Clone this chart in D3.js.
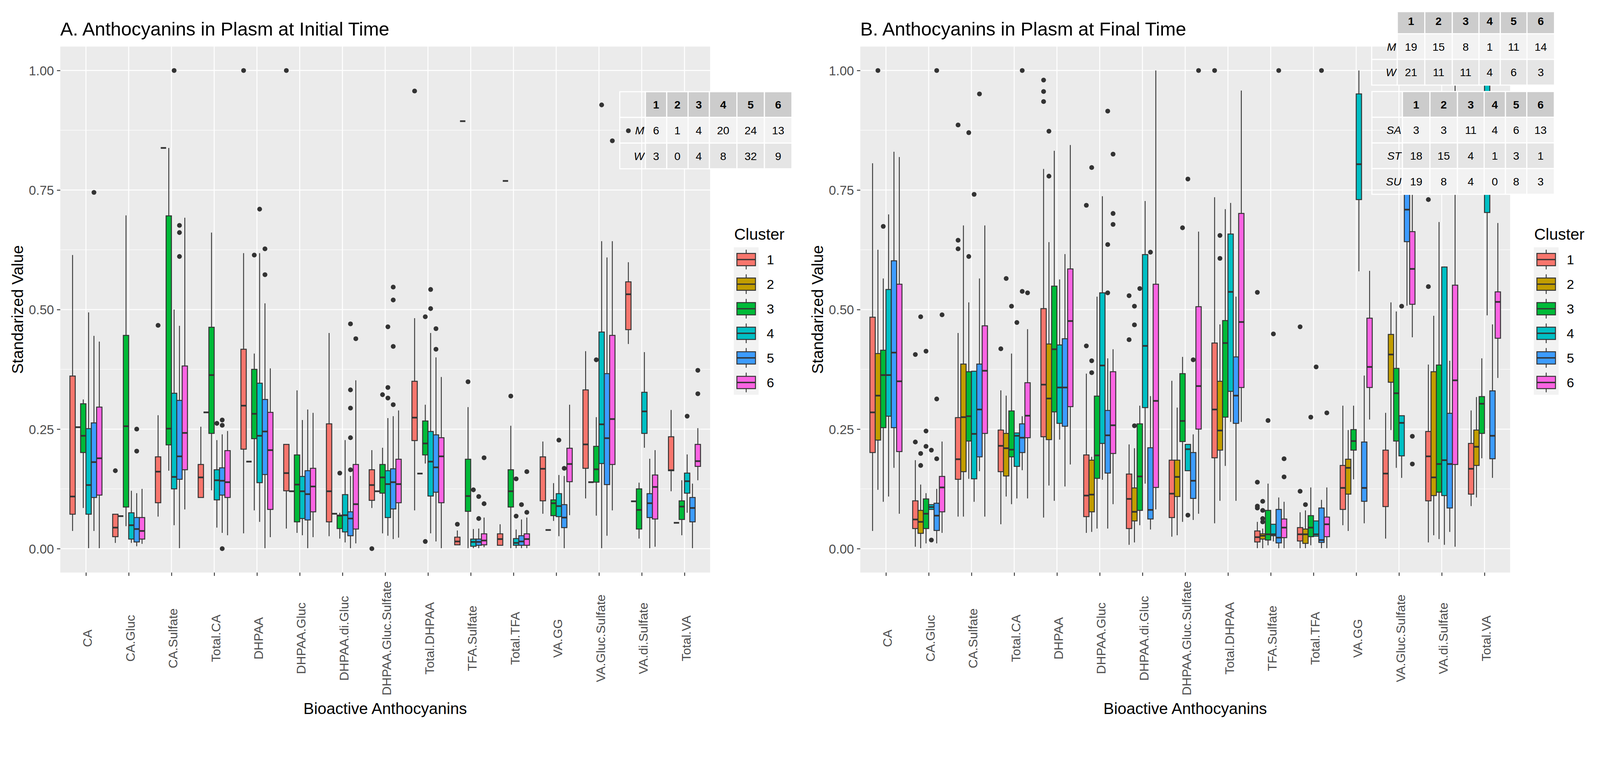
<!DOCTYPE html>
<html>
<head>
<meta charset="utf-8">
<script src="https://cdn.jsdelivr.net/npm/d3@7"></script>
<style>
  html, body { margin: 0; padding: 0; width: 100%; height: 100%; background: #fff; overflow: hidden; }
  #chart { width: 100vw; height: 100vh; }
  #chart svg { display: block; width: 100%; height: 100%; }
  text { font-family: "Liberation Sans", Arial, sans-serif; }
</style>
</head>
<body>
<div id="chart"></div>
<script>
// categories on the x axis
var categories = ["CA", "CA.Gluc", "CA.Sulfate", "Total.CA", "DHPAA", "DHPAA.Gluc", "DHPAA.di.Gluc",
    "DHPAA.Gluc.Sulfate", "Total.DHPAA", "TFA.Sulfate", "Total.TFA", "VA.GG", "VA.Gluc.Sulfate",
    "VA.di.Sulfate", "Total.VA"];
var clusters = ["1", "2", "3", "4", "5", "6"];
var clusterColors = ["#F8766D", "#C29D00", "#00BA38", "#00BFC4", "#3D9CFF", "#FB64E3"];
var yTicks = [0, 0.25, 0.5, 0.75, 1];

// box stats per category: [lower whisker, q1, median, q3, upper whisker]
// A. initial time
var initC1 = [[0.037, 0.072, 0.109, 0.361, 0.614], [0.012, 0.025, 0.044, 0.072, 0.072], [0.067, 0.096, 0.161, 0.192, 0.279],
    [0.107, 0.107, 0.149, 0.176, 0.255], [0.032, 0.208, 0.299, 0.417, 0.618], [0.042, 0.121, 0.158, 0.218, 0.218],
    [0.026, 0.056, 0.120, 0.261, 0.451], [0.085, 0.101, 0.133, 0.165, 0.206], [0.080, 0.226, 0.274, 0.350, 0.482],
    [0.008, 0.008, 0.015, 0.024, 0.038], [0.007, 0.007, 0.020, 0.031, 0.051], [0.073, 0.100, 0.167, 0.192, 0.224],
    [0.105, 0.168, 0.218, 0.332, 0.413], [0.428, 0.458, 0.532, 0.558, 0.599], [0.120, 0.163, 0.164, 0.234, 0.290]];
var initC2 = [[0.254, 0.254, 0.254, 0.254, 0.254], [0.068, 0.068, 0.068, 0.068, 0.068], [0.838, 0.838, 0.838, 0.838, 0.838],
    [0.285, 0.285, 0.285, 0.285, 0.285], [0.182, 0.182, 0.182, 0.182, 0.182], [0.120, 0.120, 0.120, 0.120, 0.120],
    [0.073, 0.073, 0.073, 0.073, 0.073], [0.120, 0.120, 0.120, 0.120, 0.120], [0.157, 0.157, 0.157, 0.157, 0.157],
    [0.894, 0.894, 0.894, 0.894, 0.894], [0.769, 0.769, 0.769, 0.769, 0.769], [0.039, 0.039, 0.039, 0.039, 0.039],
    [0.139, 0.139, 0.139, 0.139, 0.139], [0.099, 0.099, 0.099, 0.099, 0.099], [0.054, 0.054, 0.054, 0.054, 0.054]];
var initC3 = [[0.085, 0.201, 0.236, 0.303, 0.312], [0.047, 0.087, 0.256, 0.446, 0.697], [0.163, 0.217, 0.251, 0.696, 0.838],
    [0.122, 0.241, 0.363, 0.463, 0.661], [0.080, 0.230, 0.282, 0.375, 0.408], [0.033, 0.056, 0.134, 0.196, 0.331],
    [0.021, 0.042, 0.069, 0.070, 0.075], [0.032, 0.116, 0.149, 0.176, 0.211], [0.178, 0.196, 0.220, 0.267, 0.301],
    [0.001, 0.078, 0.110, 0.187, 0.296], [0.001, 0.087, 0.120, 0.165, 0.257], [0.058, 0.069, 0.095, 0.102, 0.137],
    [0.069, 0.139, 0.166, 0.214, 0.275], [0.021, 0.041, 0.081, 0.125, 0.138], [0.028, 0.061, 0.088, 0.100, 0.143]];
var initC4 = [[0.001, 0.072, 0.133, 0.251, 0.494], [0.012, 0.020, 0.049, 0.075, 0.121], [0.049, 0.125, 0.150, 0.325, 0.500],
    [0.044, 0.102, 0.143, 0.165, 0.227], [0.056, 0.138, 0.236, 0.346, 0.618], [0.028, 0.063, 0.120, 0.151, 0.269],
    [0.013, 0.035, 0.070, 0.113, 0.227], [0.027, 0.065, 0.135, 0.163, 0.273], [0.032, 0.110, 0.182, 0.245, 0.451],
    [0.001, 0.005, 0.014, 0.020, 0.041], [0.001, 0.007, 0.012, 0.021, 0.040], [0.026, 0.067, 0.089, 0.115, 0.154],
    [0.001, 0.178, 0.260, 0.453, 0.643], [0.211, 0.241, 0.287, 0.327, 0.411], [0.075, 0.116, 0.141, 0.158, 0.197]];
var initC5 = [[0.037, 0.107, 0.181, 0.263, 0.445], [0.005, 0.014, 0.041, 0.065, 0.116], [0.001, 0.145, 0.193, 0.310, 0.466],
    [0.033, 0.112, 0.142, 0.169, 0.239], [0.001, 0.155, 0.245, 0.312, 0.513], [0.001, 0.060, 0.114, 0.163, 0.291],
    [0.001, 0.027, 0.063, 0.077, 0.152], [0.020, 0.083, 0.139, 0.167, 0.277], [0.015, 0.118, 0.170, 0.238, 0.400],
    [0.001, 0.007, 0.014, 0.020, 0.042], [0.001, 0.007, 0.015, 0.027, 0.061], [0.001, 0.044, 0.065, 0.092, 0.152],
    [0.027, 0.134, 0.231, 0.366, 0.609], [0.001, 0.065, 0.095, 0.115, 0.188], [0.001, 0.056, 0.085, 0.107, 0.136]];
var initC6 = [[0.001, 0.112, 0.189, 0.296, 0.433], [0.010, 0.020, 0.037, 0.065, 0.125], [0.082, 0.165, 0.242, 0.382, 0.692],
    [0.028, 0.107, 0.139, 0.205, 0.246], [0.024, 0.082, 0.206, 0.285, 0.377], [0.024, 0.077, 0.130, 0.168, 0.284],
    [0.011, 0.041, 0.093, 0.176, 0.352], [0.023, 0.096, 0.135, 0.187, 0.289], [0.001, 0.096, 0.193, 0.232, 0.359],
    [0.003, 0.008, 0.017, 0.031, 0.065], [0.001, 0.007, 0.020, 0.031, 0.065], [0.070, 0.140, 0.177, 0.210, 0.301],
    [0.080, 0.176, 0.271, 0.446, 0.643], [0.004, 0.062, 0.129, 0.154, 0.206], [0.143, 0.172, 0.183, 0.218, 0.252]];
// outliers: [category index, cluster, value]
var initOutliers = [[0, 5, 0.745],
    [1, 1, 0.163], [1, 5, 0.250], [1, 5, 0.204],
    [2, 1, 0.467], [2, 4, 1.0], [2, 5, 0.676], [2, 5, 0.661], [2, 5, 0.611],
    [3, 4, 0.262], [3, 5, 0.269], [3, 5, 0.258], [3, 5, 0.0],
    [4, 1, 1.0], [4, 3, 0.614], [4, 4, 0.710], [4, 5, 0.627], [4, 5, 0.573],
    [5, 1, 1.0],
    [6, 3, 0.158], [6, 5, 0.470], [6, 5, 0.332], [6, 5, 0.294], [6, 5, 0.232], [6, 5, 0.165], [6, 6, 0.439],
    [7, 1, 0.0], [7, 3, 0.322], [7, 4, 0.464], [7, 4, 0.337], [7, 4, 0.315], [7, 5, 0.547], [7, 5, 0.520], [7, 5, 0.423], [7, 5, 0.301],
    [8, 1, 0.957], [8, 3, 0.485], [8, 3, 0.015], [8, 4, 0.542], [8, 4, 0.502], [8, 5, 0.460], [8, 5, 0.417],
    [9, 1, 0.051], [9, 3, 0.349], [9, 4, 0.123], [9, 5, 0.109], [9, 5, 0.063], [9, 6, 0.190], [9, 6, 0.094],
    [10, 3, 0.319], [10, 4, 0.146], [10, 4, 0.068], [10, 5, 0.092], [10, 6, 0.161], [10, 6, 0.076],
    [11, 4, 0.227], [11, 5, 0.168],
    [12, 3, 0.395], [12, 4, 0.928], [12, 6, 0.853],
    [13, 1, 0.874],
    [14, 4, 0.277], [14, 6, 0.373], [14, 6, 0.324]];

// B. final time
var finalC1 = [[0.037, 0.201, 0.285, 0.484, 0.806], [0.004, 0.042, 0.061, 0.100, 0.185], [0.067, 0.145, 0.187, 0.274, 0.451],
    [0.051, 0.161, 0.215, 0.248, 0.331], [0.065, 0.234, 0.343, 0.502, 0.794], [0.033, 0.067, 0.111, 0.196, 0.366],
    [0.008, 0.042, 0.104, 0.156, 0.218], [0.025, 0.065, 0.115, 0.185, 0.351], [0.053, 0.190, 0.291, 0.430, 0.735],
    [0.001, 0.014, 0.024, 0.037, 0.056], [0.001, 0.016, 0.030, 0.044, 0.076], [0.049, 0.082, 0.127, 0.174, 0.299],
    [0.021, 0.088, 0.157, 0.206, 0.284], [0.013, 0.100, 0.193, 0.245, 0.385], [0.089, 0.114, 0.167, 0.220, 0.289]];
var finalC2 = [[0.123, 0.227, 0.320, 0.408, 0.625], [0.001, 0.032, 0.056, 0.080, 0.134], [0.067, 0.161, 0.275, 0.386, 0.676],
    [0.109, 0.152, 0.210, 0.241, 0.320], [0.132, 0.228, 0.314, 0.428, 0.641], [0.035, 0.077, 0.113, 0.185, 0.192],
    [0.013, 0.058, 0.077, 0.127, 0.210], [0.028, 0.109, 0.150, 0.185, 0.295], [0.100, 0.206, 0.247, 0.350, 0.469],
    [0.001, 0.020, 0.027, 0.031, 0.042], [0.001, 0.011, 0.030, 0.041, 0.080], [0.037, 0.114, 0.169, 0.187, 0.248],
    [0.248, 0.348, 0.406, 0.448, 0.515], [0.028, 0.111, 0.149, 0.370, 0.487], [0.107, 0.174, 0.213, 0.248, 0.317]];
var finalC3 = [[0.098, 0.253, 0.363, 0.415, 0.565], [0.011, 0.042, 0.073, 0.104, 0.116], [0.146, 0.225, 0.277, 0.370, 0.515],
    [0.093, 0.192, 0.207, 0.288, 0.408], [0.100, 0.286, 0.417, 0.549, 0.832], [0.042, 0.147, 0.195, 0.319, 0.527],
    [0.049, 0.080, 0.151, 0.261, 0.299], [0.056, 0.224, 0.267, 0.366, 0.401], [0.173, 0.275, 0.430, 0.477, 0.710],
    [0.007, 0.018, 0.030, 0.080, 0.136], [0.007, 0.025, 0.044, 0.069, 0.128], [0.145, 0.206, 0.225, 0.249, 0.299],
    [0.169, 0.225, 0.325, 0.377, 0.496], [0.020, 0.118, 0.177, 0.384, 0.683], [0.189, 0.241, 0.303, 0.318, 0.398]];
var finalC4 = [[0.109, 0.277, 0.363, 0.542, 0.699], [0.082, 0.082, 0.087, 0.092, 0.092], [0.098, 0.146, 0.240, 0.371, 0.371],
    [0.105, 0.172, 0.236, 0.242, 0.242], [0.228, 0.262, 0.337, 0.426, 0.563], [0.144, 0.220, 0.383, 0.535, 0.737],
    [0.136, 0.295, 0.424, 0.615, 0.727], [0.163, 0.163, 0.208, 0.218, 0.218], [0.265, 0.329, 0.537, 0.658, 0.723],
    [0.015, 0.027, 0.030, 0.051, 0.051], [0.026, 0.026, 0.030, 0.058, 0.058], [0.580, 0.730, 0.804, 0.951, 1.0],
    [0.148, 0.194, 0.263, 0.278, 0.278], [0.008, 0.111, 0.185, 0.589, 0.590], [0.488, 0.703, 0.850, 0.975, 1.0]];
var finalC5 = [[0.169, 0.253, 0.410, 0.602, 0.830], [0.011, 0.038, 0.069, 0.095, 0.125], [0.162, 0.192, 0.291, 0.386, 0.565],
    [0.164, 0.201, 0.232, 0.261, 0.277], [0.130, 0.256, 0.337, 0.439, 0.616], [0.042, 0.158, 0.237, 0.289, 0.398],
    [0.040, 0.062, 0.081, 0.211, 0.319], [0.060, 0.105, 0.142, 0.201, 0.239], [0.100, 0.262, 0.320, 0.401, 0.527],
    [0.001, 0.012, 0.023, 0.082, 0.107], [0.001, 0.013, 0.018, 0.085, 0.102], [0.053, 0.099, 0.127, 0.223, 0.362],
    [0.508, 0.642, 0.709, 0.790, 0.920], [0.035, 0.085, 0.177, 0.283, 0.393], [0.148, 0.188, 0.236, 0.330, 0.469]];
var finalC6 = [[0.073, 0.203, 0.350, 0.553, 0.819], [0.033, 0.077, 0.128, 0.151, 0.224], [0.067, 0.241, 0.372, 0.466, 0.676],
    [0.105, 0.232, 0.278, 0.347, 0.459], [0.176, 0.297, 0.476, 0.585, 0.844], [0.093, 0.199, 0.258, 0.370, 0.417],
    [0.082, 0.128, 0.309, 0.553, 1.0], [0.073, 0.250, 0.340, 0.506, 0.663], [0.265, 0.337, 0.474, 0.701, 0.958],
    [0.001, 0.023, 0.044, 0.062, 0.098], [0.001, 0.025, 0.051, 0.066, 0.128], [0.270, 0.337, 0.380, 0.482, 0.581],
    [0.442, 0.511, 0.585, 0.663, 0.800], [0.004, 0.176, 0.352, 0.551, 1.0], [0.357, 0.440, 0.516, 0.537, 0.681]];
var finalOutliers = [[0, 2, 1.0], [0, 3, 0.674],
    [1, 1, 0.406], [1, 1, 0.223], [1, 2, 0.485], [1, 2, 0.199], [1, 2, 0.174], [1, 3, 0.413], [1, 3, 0.246], [1, 3, 0.214],
    [1, 4, 0.206], [1, 4, 0.018], [1, 5, 1.0], [1, 5, 0.313], [1, 5, 0.188], [1, 6, 0.489],
    [2, 1, 0.886], [2, 1, 0.645], [2, 1, 0.627], [2, 3, 0.870], [2, 3, 0.611], [2, 4, 0.741], [2, 5, 0.951],
    [3, 1, 0.418], [3, 2, 0.565], [3, 3, 0.507], [3, 4, 0.473], [3, 5, 1.0], [3, 5, 0.538], [3, 6, 0.535],
    [4, 1, 0.980], [4, 1, 0.956], [4, 1, 0.935], [4, 2, 0.873], [4, 2, 0.779],
    [5, 1, 0.718], [5, 1, 0.424], [5, 2, 0.797], [5, 2, 0.393], [5, 2, 0.368], [5, 5, 0.915], [5, 5, 0.636], [5, 5, 0.535],
    [5, 6, 0.825], [5, 6, 0.701], [5, 6, 0.678],
    [6, 1, 0.529], [6, 1, 0.437], [6, 2, 0.507], [6, 2, 0.468], [6, 2, 0.257], [6, 3, 0.544], [6, 5, 0.620],
    [7, 3, 0.671], [7, 4, 0.773], [7, 4, 0.070], [7, 5, 0.395], [7, 6, 1.0],
    [8, 1, 1.0], [8, 2, 0.655], [8, 2, 0.607],
    [9, 1, 0.536], [9, 1, 0.139], [9, 1, 0.089], [9, 1, 0.085], [9, 2, 0.099], [9, 2, 0.080], [9, 2, 0.063], [9, 2, 0.056],
    [9, 3, 0.268], [9, 4, 0.449], [9, 5, 1.0], [9, 6, 0.188], [9, 6, 0.150],
    [10, 1, 0.464], [10, 1, 0.120], [10, 2, 0.092], [10, 3, 0.275], [10, 4, 0.380], [10, 5, 1.0], [10, 6, 0.284],
    [12, 4, 0.507], [12, 6, 0.235], [12, 6, 0.177],
    [13, 1, 0.730], [13, 1, 0.548]];

// count tables
var initTableRows = ["M", "W"];
var initTableValues = [[6, 1, 4, 20, 24, 13], [3, 0, 4, 8, 32, 9]];
var finalTable1Rows = ["M", "W"];
var finalTable1Values = [[19, 15, 8, 1, 11, 14], [21, 11, 11, 4, 6, 3]];
var finalTable2Rows = ["SA", "ST", "SU"];
var finalTable2Values = [[3, 3, 11, 4, 6, 13], [18, 15, 4, 1, 3, 1], [19, 8, 4, 0, 8, 3]];

var W = 4326, H = 1975;
var svg = d3.select("#chart").append("svg")
    .attr("viewBox", "0 0 " + W + " " + H)
    .attr("preserveAspectRatio", "xMinYMin meet");
svg.append("rect").attr("width", W).attr("height", H).attr("fill", "white");
var defs = svg.append("defs");

var color = d3.scaleOrdinal().domain(clusters).range(clusterColors);

function drawTable(g, cx, cy, rowNames, values, clipTop) {
    var fs = 30, pad = 41, rowH = 69.5;
    var meas = g.append("text").style("font-size", fs + "px");
    function tw(s, bold, italic) {
        meas.text(s).style("font-weight", bold ? "bold" : "normal").style("font-style", italic ? "italic" : "normal");
        return meas.node().getComputedTextLength();
    }
    var colW = clusters.map(function(c, j) {
        var m = tw(c, true);
        values.forEach(function(r) { m = Math.max(m, tw(String(r[j]))); });
        return m + pad;
    });
    var headW = d3.max(rowNames, function(r) { return tw(r, false, true); }) + pad;
    meas.remove();

    if (clipTop !== undefined) {
        var id = "clip" + Math.round(cx) + "_" + Math.round(cy);
        defs.append("clipPath").attr("id", id).append("rect")
            .attr("x", 0).attr("y", clipTop).attr("width", W).attr("height", H - clipTop);
        g.attr("clip-path", "url(#" + id + ")");
    }

    var totalW = headW + d3.sum(colW), totalH = rowH * (values.length + 1);
    var x0 = cx - totalW / 2, y0 = cy - totalH / 2;
    var colX = [];
    var acc = x0 + headW;
    colW.forEach(function(w) { colX.push(acc); acc += w; });

    // corner + row heads (transparent)
    for (var r = 0; r <= values.length; r++) {
        g.append("rect").attr("x", x0).attr("y", y0 + r * rowH).attr("width", headW).attr("height", rowH)
            .attr("fill", "none").attr("stroke", "white").attr("stroke-width", 3);
    }
    // header
    clusters.forEach(function(c, j) {
        g.append("rect").attr("x", colX[j]).attr("y", y0).attr("width", colW[j]).attr("height", rowH)
            .attr("fill", "#cccccc").attr("stroke", "white").attr("stroke-width", 3);
        g.append("text").attr("x", colX[j] + colW[j] / 2).attr("y", y0 + rowH / 2).attr("dy", "0.36em")
            .attr("text-anchor", "middle").style("font-size", fs + "px").style("font-weight", "bold").text(c);
    });
    values.forEach(function(row, i) {
        var yy = y0 + (i + 1) * rowH;
        g.append("text").attr("x", x0 + headW - 3).attr("y", yy + rowH / 2).attr("dy", "0.36em")
            .attr("text-anchor", "end").style("font-size", fs + "px").style("font-style", "italic").text(rowNames[i]);
        row.forEach(function(v, j) {
            g.append("rect").attr("x", colX[j]).attr("y", yy).attr("width", colW[j]).attr("height", rowH)
                .attr("fill", i % 2 === 0 ? "#f2f2f2" : "#e5e5e5").attr("stroke", "white").attr("stroke-width", 3);
            g.append("text").attr("x", colX[j] + colW[j] / 2).attr("y", yy + rowH / 2).attr("dy", "0.36em")
                .attr("text-anchor", "middle").style("font-size", fs + "px").text(v);
        });
    });
}

function drawPanel(offsetX, title, series, outliers, tables) {
    var left = offsetX + 163, right = offsetX + 1920, top = 126, bottom = 1549;
    var x = d3.scaleLinear().domain([-0.6, categories.length - 0.4]).range([left, right]);
    var y = d3.scaleLinear().domain([-0.05, 1.05]).range([bottom, top]);
    var step = x(1) - x(0);
    var dodge = d3.scaleBand().domain(clusters).range([-0.375 * step, 0.375 * step]);
    var bw = dodge.bandwidth();

    var g = svg.append("g");
    g.append("rect").attr("x", left).attr("y", top).attr("width", right - left).attr("height", bottom - top)
        .attr("fill", "#ebebeb");

    // grid
    var minor = [0.125, 0.375, 0.625, 0.875];
    g.selectAll(".minor").data(minor).enter().append("line")
        .attr("x1", left).attr("x2", right).attr("y1", y).attr("y2", y)
        .attr("stroke", "white").attr("stroke-width", 1.3);
    g.selectAll(".major").data(yTicks).enter().append("line")
        .attr("x1", left).attr("x2", right).attr("y1", y).attr("y2", y)
        .attr("stroke", "white").attr("stroke-width", 2.6);
    g.selectAll(".vgrid").data(d3.range(categories.length)).enter().append("line")
        .attr("x1", x).attr("x2", x).attr("y1", top).attr("y2", bottom)
        .attr("stroke", "white").attr("stroke-width", 2.6);

    // boxes
    var boxData = [];
    series.forEach(function(s, ci) {
        s.forEach(function(st, k) { boxData.push({ cat: k, cl: clusters[ci], s: st }); });
    });
    var boxes = g.append("g").selectAll("g").data(boxData).enter().append("g")
        .attr("transform", function(d) { return "translate(" + (x(d.cat) + dodge(d.cl) + bw / 2) + ",0)"; });
    boxes.append("line").attr("y1", function(d) { return y(d.s[4]); }).attr("y2", function(d) { return y(d.s[3]); })
        .attr("stroke", "#333333").attr("stroke-width", 2.4);
    boxes.append("line").attr("y1", function(d) { return y(d.s[1]); }).attr("y2", function(d) { return y(d.s[0]); })
        .attr("stroke", "#333333").attr("stroke-width", 2.4);
    boxes.append("rect").attr("x", -bw / 2).attr("width", bw)
        .attr("y", function(d) { return y(d.s[3]); })
        .attr("height", function(d) { return y(d.s[1]) - y(d.s[3]); })
        .attr("fill", function(d) { return color(d.cl); })
        .attr("stroke", "#333333").attr("stroke-width", 2.6);
    boxes.append("line").attr("x1", -bw / 2).attr("x2", bw / 2)
        .attr("y1", function(d) { return y(d.s[2]); }).attr("y2", function(d) { return y(d.s[2]); })
        .attr("stroke", "#333333").attr("stroke-width", 4.6);

    g.append("g").selectAll("circle").data(outliers).enter().append("circle")
        .attr("cx", function(d) { return x(d[0]) + dodge(String(d[1])) + bw / 2; })
        .attr("cy", function(d) { return y(d[2]); })
        .attr("r", 6.5).attr("fill", "#333333");

    // axes
    var yAxis = g.append("g").attr("transform", "translate(" + left + ",0)")
        .call(d3.axisLeft(y).tickValues(yTicks).tickFormat(d3.format(".2f")).tickSize(9).tickPadding(8));
    yAxis.select(".domain").remove();
    yAxis.selectAll("line").attr("stroke", "#333333").attr("stroke-width", 2.4);
    yAxis.selectAll("text").attr("font-family", null).style("font-size", "35px").attr("fill", "#4d4d4d")
        .attr("dy", "0.36em");

    var xAxis = g.append("g").attr("transform", "translate(0," + bottom + ")")
        .call(d3.axisBottom(x).tickValues(d3.range(categories.length))
            .tickFormat(function(i) { return categories[i]; }).tickSize(9));
    xAxis.select(".domain").remove();
    xAxis.selectAll("line").attr("stroke", "#333333").attr("stroke-width", 2.4);
    xAxis.selectAll("text").attr("font-family", null).style("font-size", "34px").attr("fill", "#4d4d4d")
        .attr("x", null).attr("y", null).attr("dy", null)
        .attr("text-anchor", "middle").attr("dominant-baseline", "central")
        .attr("transform", "translate(4," + (1727 - bottom) + ") rotate(-90)");

    // titles
    svg.append("text").attr("x", left).attr("y", 96).style("font-size", "51px").attr("fill", "black").text(title);
    svg.append("text").attr("x", (left + right) / 2).attr("y", 1932).attr("text-anchor", "middle")
        .style("font-size", "43px").text("Bioactive Anthocyanins");
    svg.append("text").attr("transform", "translate(" + (offsetX + 62) + "," + ((top + bottom) / 2) + ") rotate(-90)")
        .attr("text-anchor", "middle").style("font-size", "43px").text("Standarized Value");

    // legend
    var lg = svg.append("g").attr("transform", "translate(" + (offsetX + 1984) + ",0)");
    lg.append("text").attr("x", 1).attr("y", 648).style("font-size", "43px").text("Cluster");
    var keyH = 66.5, keyW = 67, keyTop = 669;
    lg.append("rect").attr("x", 0).attr("y", keyTop).attr("width", keyW).attr("height", keyH * clusters.length)
        .attr("fill", "#f2f2f2");
    var keys = lg.selectAll("g.key").data(clusters).enter().append("g")
        .attr("transform", function(d, i) { return "translate(0," + (keyTop + i * keyH) + ")"; });
    keys.append("line").attr("x1", keyW / 2).attr("x2", keyW / 2).attr("y1", keyH * 0.1).attr("y2", keyH * 0.25)
        .attr("stroke", "#333333").attr("stroke-width", 2.4);
    keys.append("line").attr("x1", keyW / 2).attr("x2", keyW / 2).attr("y1", keyH * 0.75).attr("y2", keyH * 0.9)
        .attr("stroke", "#333333").attr("stroke-width", 2.4);
    keys.append("rect").attr("x", keyW * 0.125).attr("y", keyH * 0.25).attr("width", keyW * 0.75).attr("height", keyH * 0.5)
        .attr("fill", function(d) { return color(d); }).attr("stroke", "#333333").attr("stroke-width", 2.6);
    keys.append("line").attr("x1", keyW * 0.125).attr("x2", keyW * 0.875).attr("y1", keyH * 0.5).attr("y2", keyH * 0.5)
        .attr("stroke", "#333333").attr("stroke-width", 3.6);
    keys.append("text").attr("x", 89).attr("y", keyH / 2).attr("dy", "0.36em").style("font-size", "36px")
        .text(function(d) { return d; });

    // count tables laid over the panel
    tables.forEach(function(t) {
        drawTable(svg.append("g"), x(t.xi), y(t.yv), t.rows, t.values, t.clipTop);
    });
}

drawPanel(0, "A. Anthocyanins in Plasm at Initial Time",
    [initC1, initC2, initC3, initC4, initC5, initC6], initOutliers,
    [{ xi: 14.5, yv: 0.875, rows: initTableRows, values: initTableValues }]);

drawPanel(2163, "B. Anthocyanins in Plasm at Final Time",
    [finalC1, finalC2, finalC3, finalC4, finalC5, finalC6], finalOutliers,
    [{ xi: 13.5, yv: 1.05, rows: finalTable1Rows, values: finalTable1Values, clipTop: 33 },
     { xi: 13.5, yv: 0.8485, rows: finalTable2Rows, values: finalTable2Values }]);
</script>
</body>
</html>
